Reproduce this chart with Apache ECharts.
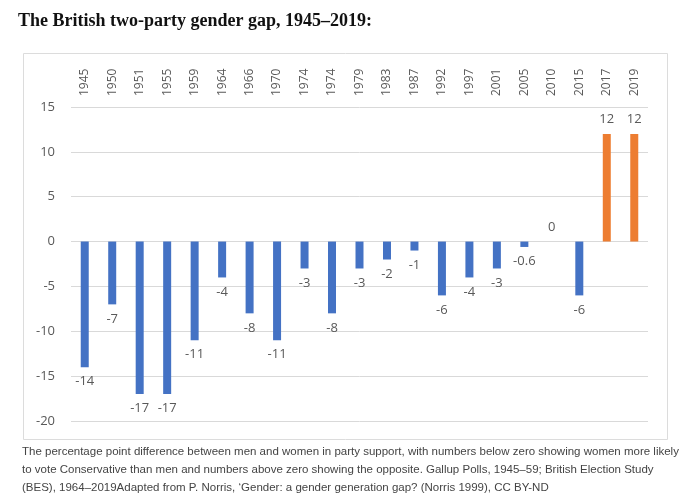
<!DOCTYPE html>
<html>
<head>
<meta charset="utf-8">
<style>
html,body{margin:0;padding:0;background:#fff;}
#chart{width:682px;height:498px;}
</style>
<script src="https://cdn.jsdelivr.net/npm/echarts@6/dist/echarts.min.js"></script>
</head>
<body>
<div id="chart"></div>
<script>
const categories = ['1945','1950','1951','1955','1959','1964','1966','1970','1974','1974','1979','1983','1987','1992','1997','2001','2005','2010','2015','2017','2019'];
const gapValues = [-14,-7,-17,-17,-11,-4,-8,-11,-3,-8,-3,-2,-1,-6,-4,-3,-0.6,0,-6,12,12];
const yTicks = {min:-20, max:15, interval:5};
const titleText = 'The British two-party gender gap, 1945–2019:';
const captionLines = [
  'The percentage point difference between men and women in party support, with numbers below zero showing women more likely',
  'to vote Conservative than men and numbers above zero showing the opposite. Gallup Polls, 1945–59; British Election Study',
  '(BES), 1964–2019Adapted from P. Norris, ‘Gender: a gender generation gap? (Norris 1999), CC BY-ND'
];

const BLUE = '#4472C4', ORANGE = '#ED7D31', GRAY = '#595959';
const chart = echarts.init(document.getElementById('chart'), null, {renderer:'canvas'});
const seriesData = gapValues.map(v => ({
  value: v,
  itemStyle: {color: v > 0 ? ORANGE : BLUE},
  label: {position: v >= 0 ? 'top' : 'bottom'}
}));
chart.setOption({
  animation: false,
  backgroundColor: '#fff',
  grid: {left: 71, right: 34, top: 107, bottom: 77, containLabel: false},
  xAxis: {
    type: 'category',
    position: 'top',
    data: categories,
    axisLine: {show: false},
    axisTick: {show: false},
    axisLabel: {rotate: 90, color: GRAY, fontSize: 12, fontFamily: 'Open Sans', margin: 11, interval: 0}
  },
  yAxis: {
    type: 'value',
    min: yTicks.min, max: yTicks.max, interval: yTicks.interval,
    axisLine: {show: false},
    axisTick: {show: false},
    axisLabel: {color: GRAY, fontSize: 13, fontFamily: 'Open Sans', margin: 16},
    splitLine: {lineStyle: {color: '#d9d9d9', width: 1}}
  },
  series: [{
    type: 'bar',
    data: seriesData,
    barWidth: 8,
    label: {show: true, color: GRAY, fontSize: 13, fontFamily: 'Open Sans', distance: 8},
  }],
  graphic: [
    {type: 'rect', shape: {x: 23.5, y: 53.5, width: 644, height: 386}, style: {fill: null, stroke: '#dcdcdc', lineWidth: 1}, z: -1, silent: true},
    {type: 'text', left: 18, top: 12, style: {text: titleText, font: 'bold 18px "Liberation Serif"', fill: '#111'}},
    ...captionLines.map((t, i) => ({type: 'text', left: 22, top: 446 + i * 18, style: {text: t, font: '11.5px "Liberation Sans"', fill: '#444'}}))
  ]
});
</script>
</body>
</html>
